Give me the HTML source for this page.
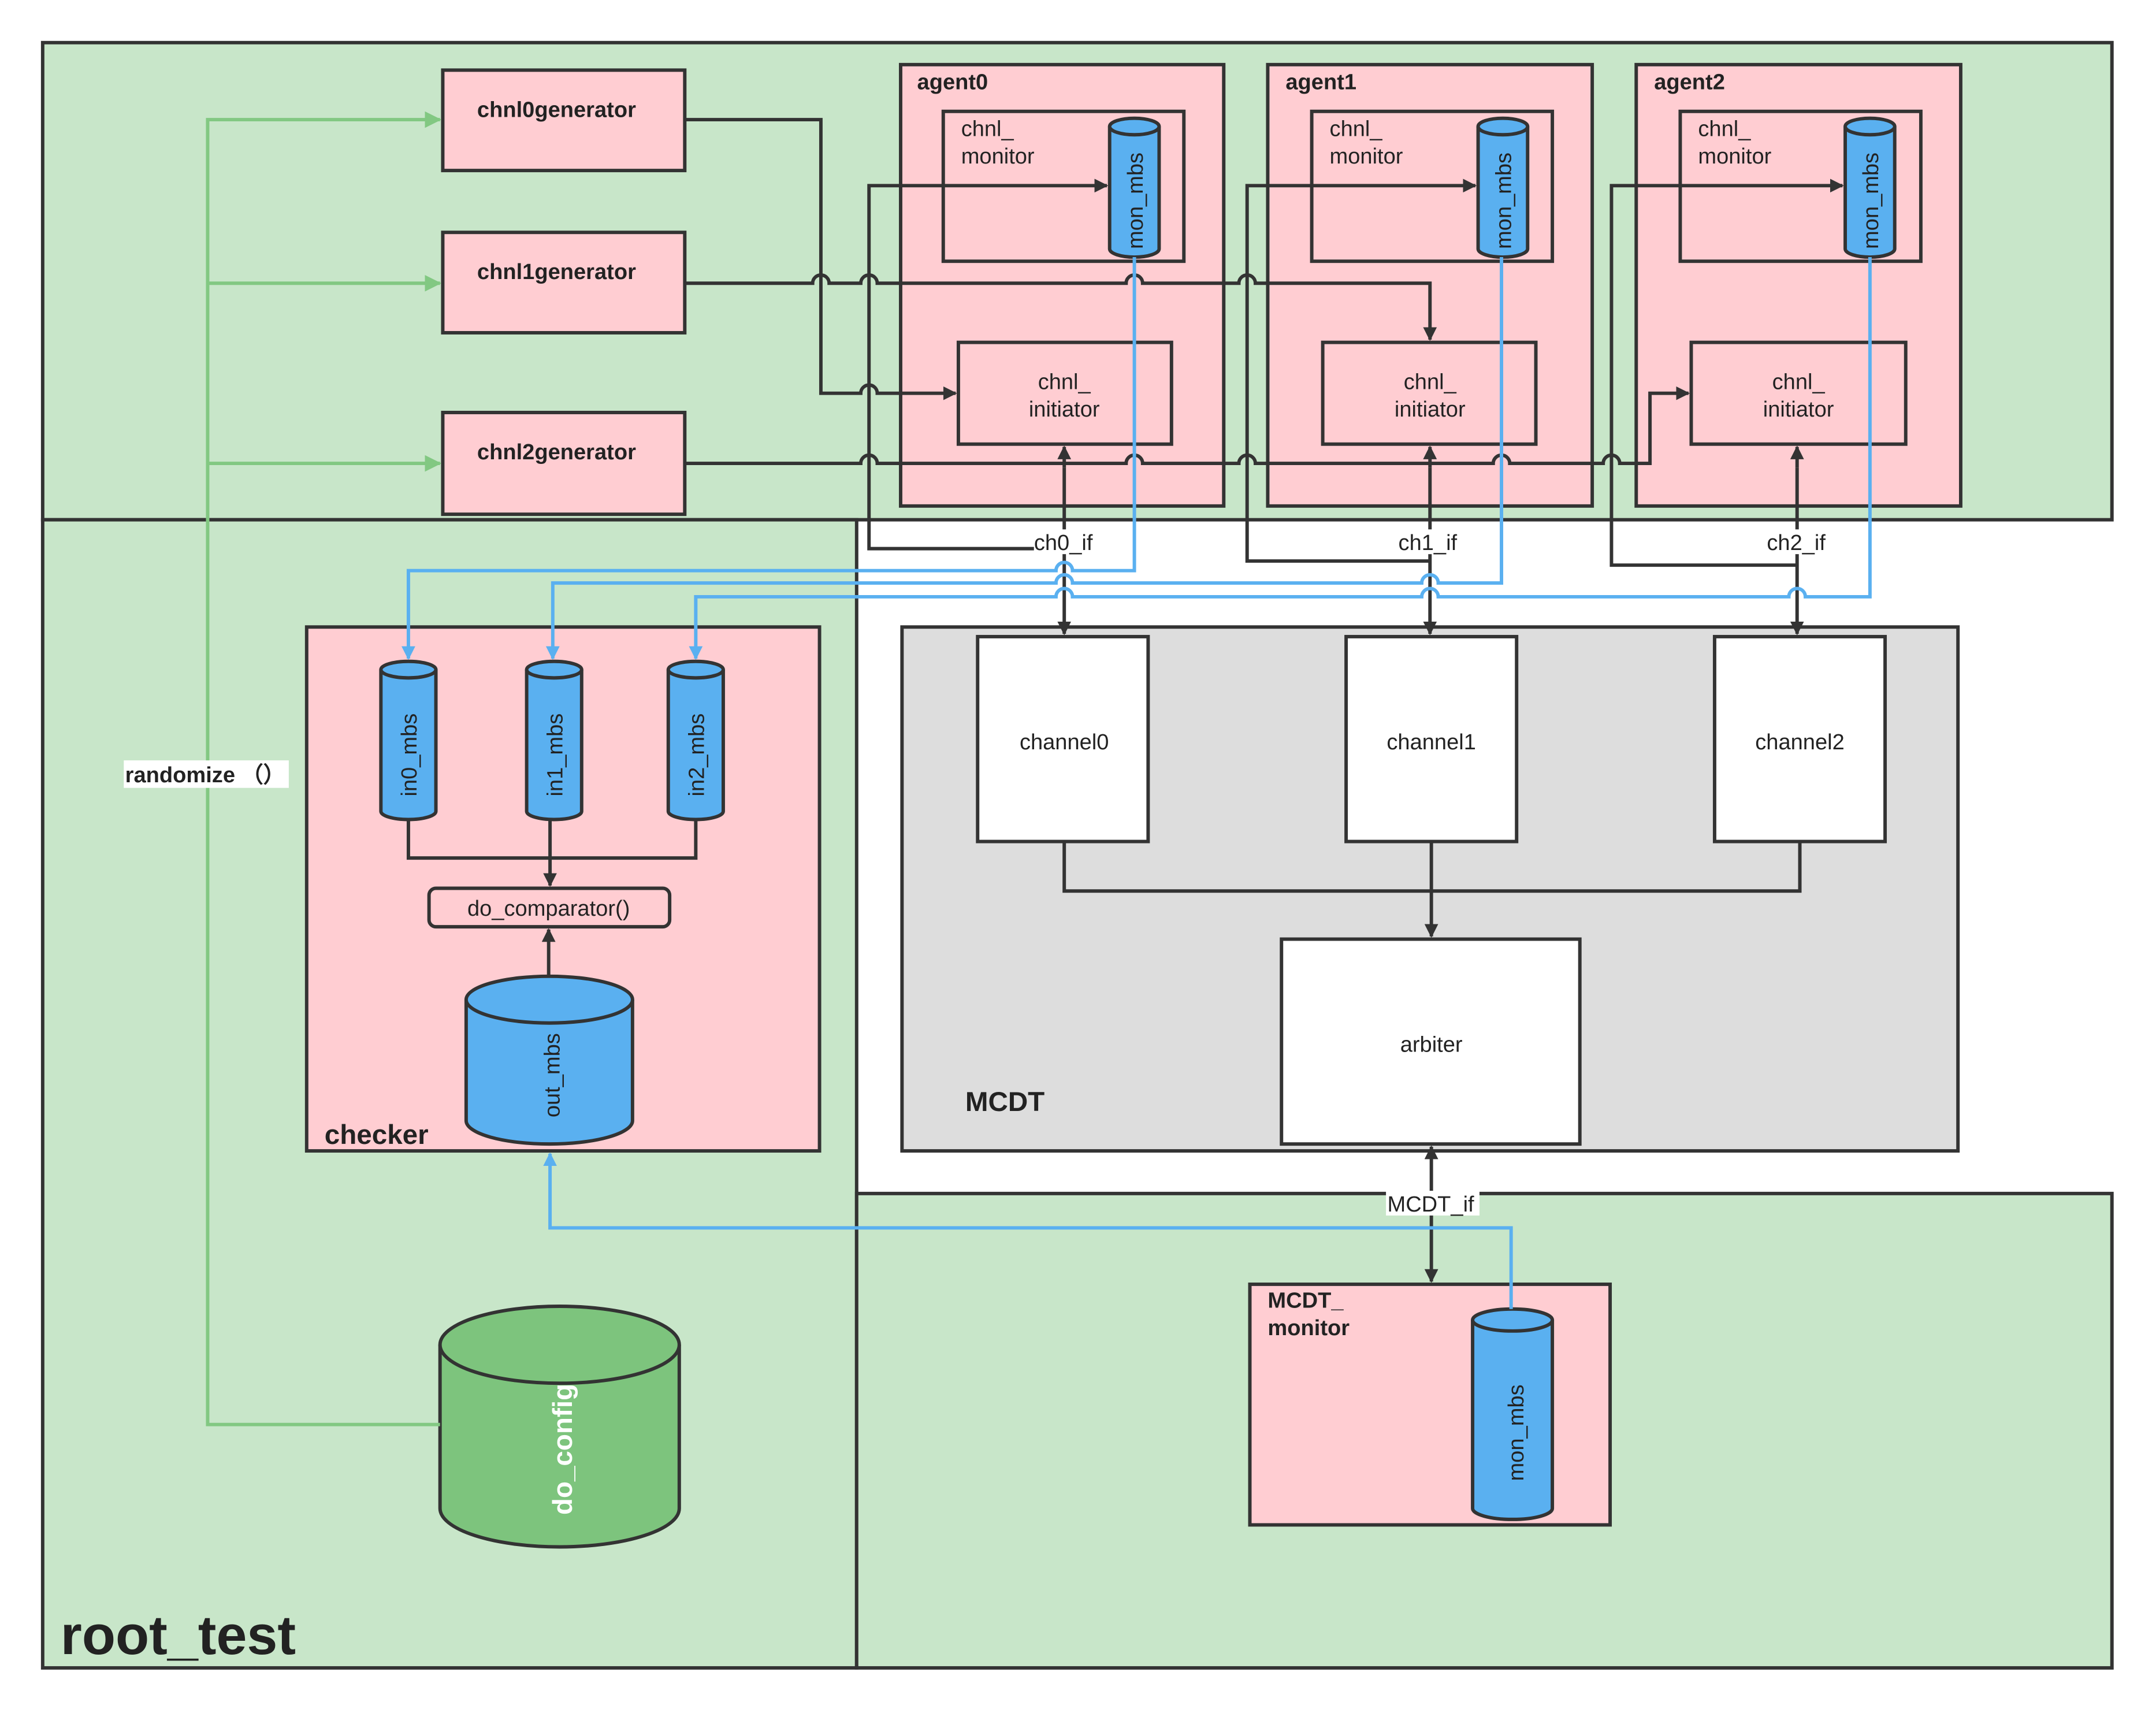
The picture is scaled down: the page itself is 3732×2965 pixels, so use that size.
<!DOCTYPE html>
<html><head><meta charset="utf-8"><style>html,body{margin:0;padding:0;background:#fff}svg{display:block}</style></head>
<body>
<svg width="3732" height="2965" viewBox="0 0 1568 1245.8" xmlns="http://www.w3.org/2000/svg" font-family="Liberation Sans, sans-serif">
<defs>
<marker id="ak" markerWidth="10" markerHeight="10" refX="9" refY="5" orient="auto" markerUnits="userSpaceOnUse"><path d="M0,0 L10,5 L0,10 z" fill="#333"/></marker>
<marker id="ab" markerWidth="10" markerHeight="10" refX="9" refY="5" orient="auto" markerUnits="userSpaceOnUse"><path d="M0,0 L10,5 L0,10 z" fill="#5AB0F0"/></marker>
<marker id="ag" markerWidth="12" markerHeight="12" refX="11" refY="6" orient="auto" markerUnits="userSpaceOnUse"><path d="M0,0 L12,6 L0,12 z" fill="#82C882"/></marker>
</defs>
<g stroke="#333" stroke-width="2.5">
<rect x="31" y="31" width="1505" height="347" fill="#C8E6C9"/>
<rect x="31" y="378" width="592" height="835" fill="#C8E6C9"/>
<rect x="623" y="868" width="913" height="345" fill="#C8E6C9"/>
<rect x="322" y="51" width="176" height="73" fill="#FFCDD2"/>
<rect x="322" y="169" width="176" height="73" fill="#FFCDD2"/>
<rect x="322" y="300" width="176" height="74" fill="#FFCDD2"/>
<rect x="655" y="47" width="235" height="321" fill="#FFCDD2"/>
<rect x="922" y="47" width="236" height="321" fill="#FFCDD2"/>
<rect x="1190" y="47" width="236" height="321" fill="#FFCDD2"/>
<rect x="686" y="81" width="175" height="109" fill="none"/>
<rect x="954" y="81" width="175" height="109" fill="none"/>
<rect x="1222" y="81" width="175" height="109" fill="none"/>
<rect x="697" y="249" width="155" height="74" fill="#FFCDD2"/>
<rect x="962" y="249" width="155" height="74" fill="#FFCDD2"/>
<rect x="1230" y="249" width="156" height="74" fill="#FFCDD2"/>
<rect x="223" y="456" width="373" height="381" fill="#FFCDD2"/>
<rect x="656" y="456" width="768" height="381" fill="#DDDDDD"/>
<rect x="711" y="463" width="124" height="149" fill="#fff"/>
<rect x="979" y="463" width="124" height="149" fill="#fff"/>
<rect x="1247" y="463" width="124" height="149" fill="#fff"/>
<rect x="932" y="683" width="217" height="149" fill="#fff"/>
<rect x="909" y="934" width="262" height="175" fill="#FFCDD2"/>
<rect x="312" y="646" width="175" height="28" rx="5" fill="#FFCDD2"/>
</g>
<!-- cylinders -->
<g stroke="#333" stroke-width="2.5" fill="#5AB0F0">
<path d="M807,92 v89 a18,6 0 0 0 36,0 v-89"/><ellipse cx="825" cy="92" rx="18" ry="6"/>
<path d="M1075,92 v89 a18,6 0 0 0 36,0 v-89"/><ellipse cx="1093" cy="92" rx="18" ry="6"/>
<path d="M1342,92 v89 a18,6 0 0 0 36,0 v-89"/><ellipse cx="1360" cy="92" rx="18" ry="6"/>
<path d="M277,487 v103 a20,6 0 0 0 40,0 v-103"/><ellipse cx="297" cy="487" rx="20" ry="6"/>
<path d="M383,487 v103 a20,6 0 0 0 40,0 v-103"/><ellipse cx="403" cy="487" rx="20" ry="6"/>
<path d="M486,487 v103 a20,6 0 0 0 40,0 v-103"/><ellipse cx="506" cy="487" rx="20" ry="6"/>
<path d="M339,727 v88 a60.5,17 0 0 0 121,0 v-88"/><ellipse cx="399.5" cy="727" rx="60.5" ry="17"/>
<path d="M1071,960 v137 a29,8 0 0 0 58,0 v-137"/><ellipse cx="1100" cy="960" rx="29" ry="8"/>
<path d="M320,978 v119 a87,28 0 0 0 174,0 v-119" fill="#7DC47D"/><ellipse cx="407" cy="978" rx="87" ry="28" fill="#7DC47D"/>
</g>
<!-- green lines -->
<g stroke="#82C882" stroke-width="2.5" fill="none">
<path d="M320,1036 H151 V87 H320" marker-end="url(#ag)"/>
<path d="M151,206 H320" marker-end="url(#ag)"/>
<path d="M151,337 H320" marker-end="url(#ag)"/>
</g>
<rect x="90" y="553" width="120" height="20" fill="#fff"/>
<text x="91" y="569" font-size="16" font-weight="bold" fill="#222">randomize （）</text>
<!-- black connectors -->
<g stroke="#333" stroke-width="2.5" fill="none">
<path d="M498,87 H597 V286 H626 a6,6 0 0 1 12,0 H695" marker-end="url(#ak)"/>
<path d="M498,206 H591 a6,6 0 0 1 12,0 H626 a6,6 0 0 1 12,0 H819 a6,6 0 0 1 12,0 H901 a6,6 0 0 1 12,0 H1040 V247" marker-end="url(#ak)"/>
<path d="M498,337 H626 a6,6 0 0 1 12,0 H819 a6,6 0 0 1 12,0 H901 a6,6 0 0 1 12,0 H1086 a6,6 0 0 1 12,0 H1166 a6,6 0 0 1 12,0 H1200 V286 H1228" marker-end="url(#ak)"/>
<path d="M752,399 H632 V135 H805" marker-end="url(#ak)"/>
<path d="M1040,408 H907 V135 H1073" marker-end="url(#ak)"/>
<path d="M1307,411 H1172 V135 H1340" marker-end="url(#ak)"/>
<path d="M774,340 V461" marker-end="url(#ak)"/><path d="M774,340 V325" marker-end="url(#ak)"/>
<path d="M1040,340 V461" marker-end="url(#ak)"/><path d="M1040,340 V325" marker-end="url(#ak)"/>
<path d="M1307,340 V461" marker-end="url(#ak)"/><path d="M1307,340 V325" marker-end="url(#ak)"/>
<path d="M774,612 V648 H1309 V612"/>
<path d="M1041,612 V681" marker-end="url(#ak)"/>
<path d="M1041,880 V834" marker-end="url(#ak)"/><path d="M1041,880 V932" marker-end="url(#ak)"/>
<path d="M297,596 V624 H506 V596"/><path d="M400,596 V644" marker-end="url(#ak)"/>
<path d="M399,710 V676" marker-end="url(#ak)"/>
</g>
<!-- blue connectors -->
<g stroke="#5AB0F0" stroke-width="2.5" fill="none">
<path d="M825,187 V415 H780 a6,6 0 0 0 -12,0 H297 V479" marker-end="url(#ab)"/>
<path d="M1092,187 V424 H1046 a6,6 0 0 0 -12,0 H780 a6,6 0 0 0 -12,0 H402 V479" marker-end="url(#ab)"/>
<path d="M1360,187 V434 H1313 a6,6 0 0 0 -12,0 H1046 a6,6 0 0 0 -12,0 H780 a6,6 0 0 0 -12,0 H506 V479" marker-end="url(#ab)"/>
<path d="M1099,952 V893 H400 V839" marker-end="url(#ab)"/>
</g>
<!-- labels -->
<g fill="#222" font-size="16" font-weight="bold">
<text x="347" y="85">chnl0generator</text>
<text x="347" y="203">chnl1generator</text>
<text x="347" y="334">chnl2generator</text>
<text x="667" y="65">agent0</text>
<text x="935" y="65">agent1</text>
<text x="1203" y="65">agent2</text>
<text x="922" y="951">MCDT_</text><text x="922" y="971">monitor</text>
<text x="236" y="832" font-size="20">checker</text>
<text x="702" y="808" font-size="20">MCDT</text>
<text x="44" y="1203" font-size="40">root_test</text>
</g>
<g fill="#222" font-size="16">
<text x="699" y="99">chnl_</text><text x="699" y="119">monitor</text>
<text x="967" y="99">chnl_</text><text x="967" y="119">monitor</text>
<text x="1235" y="99">chnl_</text><text x="1235" y="119">monitor</text>
<g text-anchor="middle">
<text x="774" y="283">chnl_</text><text x="774" y="303">initiator</text>
<text x="1040" y="283">chnl_</text><text x="1040" y="303">initiator</text>
<text x="1308" y="283">chnl_</text><text x="1308" y="303">initiator</text>
<text x="774" y="545">channel0</text>
<text x="1041" y="545">channel1</text>
<text x="1309" y="545">channel2</text>
<text x="1041" y="765">arbiter</text>
<text x="399" y="666">do_comparator()</text>
</g>
<rect x="752" y="385" width="48" height="18" fill="#fff"/><text x="752" y="400">ch0_if</text>
<rect x="1017" y="385" width="48" height="18" fill="#fff"/><text x="1017" y="400">ch1_if</text>
<rect x="1285" y="385" width="48" height="18" fill="#fff"/><text x="1285" y="400">ch2_if</text>
<rect x="1008" y="866" width="68" height="18" fill="#fff"/><text x="1009" y="881">MCDT_if</text>
<g text-anchor="middle">
<text transform="translate(831,146) rotate(-90)">mon_mbs</text>
<text transform="translate(1099,146) rotate(-90)">mon_mbs</text>
<text transform="translate(1366,146) rotate(-90)">mon_mbs</text>
<text transform="translate(303,549) rotate(-90)">in0_mbs</text>
<text transform="translate(409,549) rotate(-90)">in1_mbs</text>
<text transform="translate(512,549) rotate(-90)">in2_mbs</text>
<text transform="translate(407,782) rotate(-90)">out_mbs</text>
<text transform="translate(1108,1042) rotate(-90)">mon_mbs</text>
<text transform="translate(416,1054) rotate(-90)" fill="#fff" font-weight="bold" font-size="20">do_config</text>
</g>
</g>
</svg>
</body></html>
